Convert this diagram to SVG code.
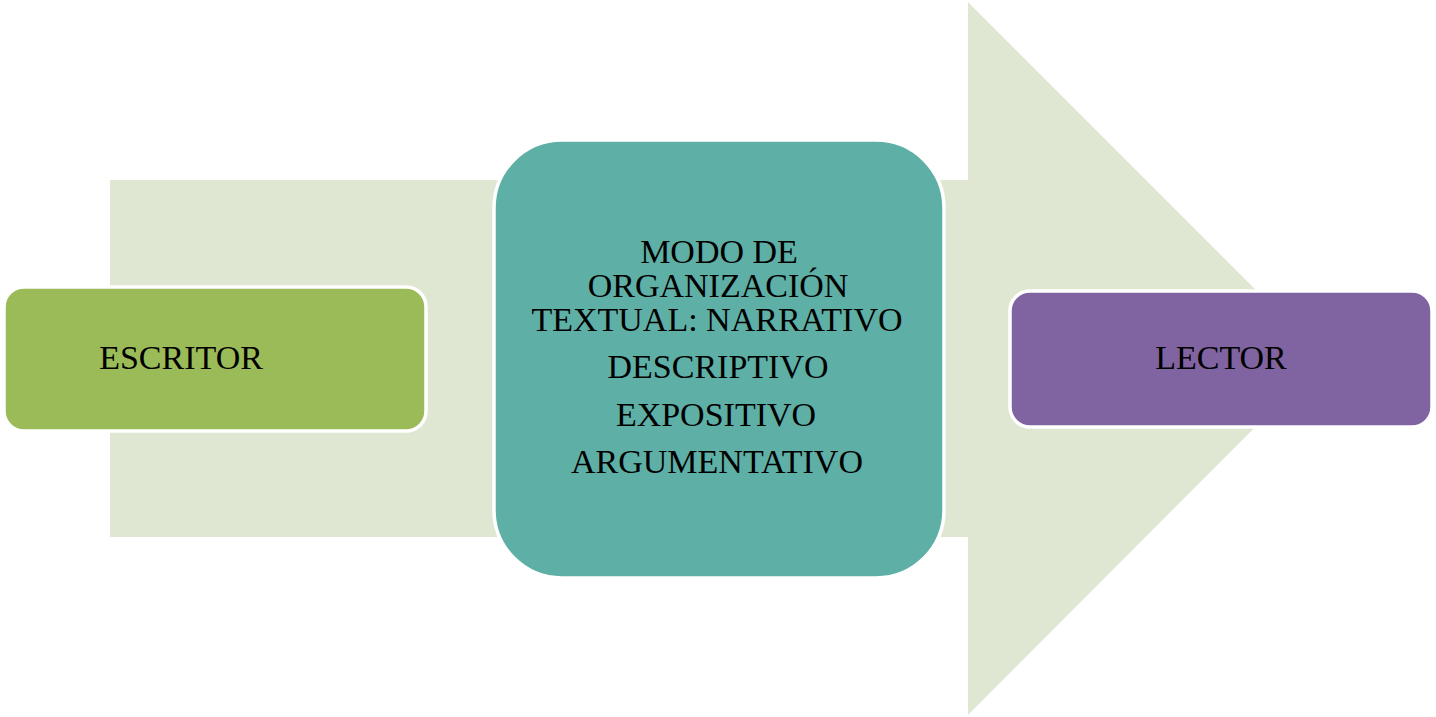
<svg xmlns="http://www.w3.org/2000/svg" width="1436" height="717" viewBox="0 0 1436 717">
<style>
.node{stroke:#FFFFFF;stroke-width:3.5}
.t{font-family:"Liberation Serif","DejaVu Serif",serif;font-size:34px;fill:#000000;text-anchor:middle}
</style>
<rect width="1436" height="717" fill="#FFFFFF"/>
<g id="connectors">
<path d="M110 180 H968 V2 L1324 358 L968 715 V537 H110 Z" fill="#DFE7D3"/>
</g>
<g id="escritor">
<rect class="node" x="4" y="287" width="422" height="144" rx="20" fill="#9BBB59"/>
<text class="t" x="181" y="369">ESCRITOR</text>
</g>
<g id="modo">
<rect class="node" x="494" y="140" width="450" height="438" rx="68" fill="#5EAFA6"/>
<text class="t" x="719" y="263">MODO DE</text>
<text class="t" x="718" y="297">ORGANIZACIÓN</text>
<text class="t" x="717" y="331">TEXTUAL: NARRATIVO</text>
<text class="t" x="718" y="378">DESCRIPTIVO</text>
<text class="t" x="716" y="426">EXPOSITIVO</text>
<text class="t" x="717" y="473">ARGUMENTATIVO</text>
</g>
<g id="lector">
<rect class="node" x="1010" y="291" width="422" height="136" rx="20" fill="#8064A2"/>
<text class="t" x="1221" y="369">LECTOR</text>
</g>
</svg>
